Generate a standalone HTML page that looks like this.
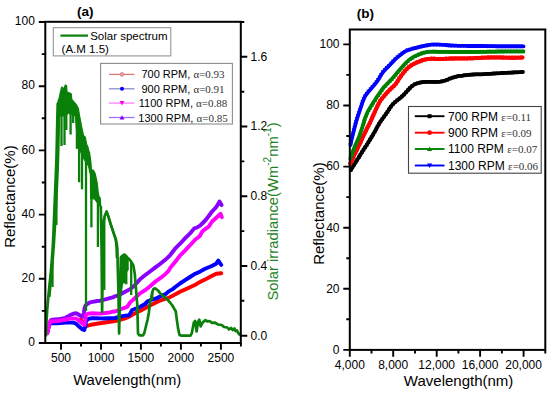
<!DOCTYPE html><html><head><meta charset="utf-8"><style>html,body{margin:0;padding:0;background:#fff;overflow:hidden}svg{display:block}text{font-family:"Liberation Sans",sans-serif}.sr{font-family:"Liberation Serif",serif}</style></head><body>
<svg width="550" height="395" viewBox="0 0 550 395">
<rect width="550" height="395" fill="#fff"/>
<polyline points="80.5,319.8 82.0,321.2 84.0,324.0 85.5,326.2 87.2,325.8 90.0,325.0 95.0,324.0 100.0,323.3 105.0,322.5 110.0,321.8 115.0,321.0 120.0,319.8 125.1,318.4 129.0,316.8 133.2,314.4 137.0,312.3 140.3,310.8 145.0,308.3 150.0,305.5 155.0,303.0 159.0,300.9 165.0,299.0 169.2,297.5 173.7,295.2 175.0,294.4 180.0,291.8 185.1,289.4 190.0,287.2 195.3,284.8 198.0,283.0 205.0,279.6 211.2,276.3 216.2,273.8 221.3,273.3" fill="none" stroke="#ff0000" stroke-width="3.9" stroke-linejoin="round" stroke-linecap="round"/>
<polyline points="47.3,332.0 48.8,325.5 50.5,323.3 58.0,323.4 65.6,322.6 73.2,322.6 76.2,323.8 79.3,326.8 82.3,329.3 84.2,330.0 85.2,327.0 86.1,321.0 88.8,318.6 92.0,318.2 96.4,318.2 100.0,318.4 104.0,318.5 108.0,318.2 115.0,318.0 121.1,316.4 127.2,315.4 129.2,315.2 132.2,310.0 135.3,308.8 140.3,306.8 145.0,304.0 148.0,301.0 151.0,300.0 155.5,298.7 160.0,296.5 165.1,294.4 169.2,291.1 172.7,289.1 175.0,287.3 180.0,283.5 185.1,280.2 190.0,277.0 195.3,273.7 198.0,272.6 200.3,271.4 205.1,268.7 211.2,266.2 216.2,263.7 218.3,260.6 221.3,265.0" fill="none" stroke="#0000ff" stroke-width="3.9" stroke-linejoin="round" stroke-linecap="round"/>
<polyline points="47.5,333.0 49.2,324.0 50.8,320.3 52.0,319.6 58.0,319.3 65.6,317.8 69.4,315.6 73.2,313.7 76.2,313.3 78.5,314.5 80.8,316.0 83.1,316.8 83.8,313.0 84.5,308.5 85.5,305.5 87.3,304.0 90.0,302.3 92.6,301.8 97.3,301.0 100.2,300.7 106.3,299.2 112.7,297.4 115.0,296.3 119.0,295.0 125.1,291.8 130.2,289.1 134.3,285.8 140.0,279.3 145.0,275.3 150.0,271.5 155.1,267.6 160.0,264.0 165.3,259.8 170.0,255.3 175.1,248.7 180.1,243.7 185.2,238.1 190.3,233.2 194.0,228.6 197.6,227.2 200.1,225.6 203.2,222.5 205.2,220.5 208.0,217.0 212.1,211.5 216.6,206.6 219.5,201.5 221.5,205.0" fill="none" stroke="#8a00ff" stroke-width="3.9" stroke-linejoin="round" stroke-linecap="round"/>
<polyline points="47.1,333.3 48.9,325.4 50.3,321.2 52.8,321.3 58.0,321.0 65.6,319.8 69.4,318.6 73.2,318.4 76.2,318.6 79.3,321.0 82.3,323.6 84.6,324.7 85.3,319.0 86.0,314.8 88.0,313.6 92.6,313.2 100.2,313.6 107.8,312.8 112.0,311.8 115.0,311.5 119.0,310.0 123.1,308.3 127.2,306.8 130.2,302.4 135.3,297.7 140.3,293.1 145.0,290.3 150.1,286.3 155.1,281.8 160.2,278.2 165.3,274.2 168.3,271.2 170.5,267.5 175.1,262.0 180.1,255.5 185.2,250.3 190.3,245.0 195.3,239.5 198.0,237.5 200.1,235.7 202.2,231.6 205.2,229.1 208.7,226.6 212.1,221.5 216.6,217.5 220.6,213.8 221.8,217.2" fill="none" stroke="#ff00ff" stroke-width="3.9" stroke-linejoin="round" stroke-linecap="round"/>
<polygon points="57.3,116.0 57.5,103.0 58.5,100.0 59.2,98.0 60.2,93.0 61.7,87.0 63.0,88.2 64.2,88.0 65.3,85.0 66.5,85.6 67.1,92.0 69.8,93.0 71.3,94.0 71.8,99.5 73.7,101.6 76.3,104.6 78.4,108.5 79.6,116.0 80.8,122.0 81.5,126.5 82.7,131.6 83.4,135.3 85.3,137.2 86.6,144.2 87.8,146.7 89.1,151.8 89.6,152.8 90.8,161.5 91.5,170.3 93.4,170.0 95.3,174.1 97.2,183.0 98.4,194.0 99.2,197.0 100.2,198.0 100.8,206.0 99.3,206.0 97.5,203.0 94.6,199.0 90.6,198.6 90.4,175.0 88.5,166.0 87.7,165.0 84.5,160.0 82.0,155.0 80.0,150.0 78.3,148.0 76.2,127.0 75.5,116.0 68.0,113.0 66.0,116.0" fill="#0a800a" stroke="#0a800a" stroke-width="1.2" stroke-linejoin="round"/>
<polygon points="120.9,262.0 121.8,256.5 123.3,254.6 126.5,255.2 128.2,258.0 128.2,270.0 126.5,272.0 125.6,283.0 122.6,283.0 121.6,292.0 120.8,292.0" fill="#0a800a" stroke="#0a800a" stroke-width="1"/>
<polyline points="107.4,213.5 109.2,219.0 111.6,227.0 114.0,234.5 115.6,240.0 116.4,247.0 116.7,258.0" fill="none" stroke="#0a800a" stroke-width="2.2"/>
<polyline points="45.9,336.5 46.3,325.0 47.2,310.0 48.3,297.0 49.5,285.0 50.6,275.0 51.8,260.0 52.6,250.0 53.5,232.0 54.3,212.0 55.0,195.0 55.7,178.0 56.4,160.0 56.9,140.0 57.3,120.0 57.8,103.0" fill="none" stroke="#0a800a" stroke-width="2.7" stroke-linejoin="round"/>
<polyline points="49.3,297.0 51.0,278.0 52.5,262.0 53.8,245.0 54.8,228.0 55.8,210.0 56.7,190.0 57.6,170.0 58.2,150.0 58.6,130.0 58.8,115.0" fill="none" stroke="#0a800a" stroke-width="2.7" stroke-linejoin="round"/>
<polyline points="100.8,206.0 101.6,250.0 102.1,312.0 102.8,260.0 103.6,222.0 104.6,216.3 106.6,211.5 108.2,216.0 110.6,224.0 114.0,234.0 115.8,239.0 116.8,244.0 117.4,250.0 117.7,265.0 118.4,290.0 119.1,333.5 119.9,300.0 120.5,280.0 120.9,257.5 122.2,256.0 123.4,255.0 124.7,254.6 127.2,257.5 129.1,259.0 131.0,261.3 133.3,265.5 134.8,274.0 136.0,289.0 137.3,305.0 138.0,333.5 139.5,335.3 143.0,335.3 144.3,333.0 146.0,326.0 147.5,320.0 148.8,313.0 150.0,303.0 151.2,298.0 152.3,292.0 153.5,289.0 155.1,288.3 156.0,289.0 158.2,290.6 160.1,293.3 165.1,297.5 168.3,300.5 170.3,302.8 172.7,306.0 174.5,309.4 175.7,311.0 176.8,319.6 178.2,329.1 179.5,335.0 181.0,335.6 190.5,335.6 191.8,333.2 193.9,322.3 195.2,320.9 196.6,331.5 198.0,322.3 199.3,319.6 200.7,326.4 202.7,322.3 205.5,320.2 207.5,321.5 209.6,321.0 212.0,322.8 215.0,322.6 218.0,324.5 221.8,325.0 224.0,327.0 227.3,327.5 229.0,329.5 231.0,328.0 232.8,330.0 234.5,328.5 235.5,331.0 237.0,330.5 238.2,333.0 240.3,335.2" fill="none" stroke="#0a800a" stroke-width="2.7" stroke-linejoin="round"/>
<line x1="52.5" y1="262" x2="52.5" y2="287" stroke="#0a800a" stroke-width="2.3"/>
<line x1="56.4" y1="190" x2="56.4" y2="225" stroke="#0a800a" stroke-width="2.3"/>
<line x1="61.5" y1="110" x2="61.5" y2="146" stroke="#0a800a" stroke-width="2.3"/>
<line x1="64.5" y1="110" x2="64.5" y2="145" stroke="#0a800a" stroke-width="2.3"/>
<line x1="66.3" y1="110" x2="66.3" y2="130" stroke="#0a800a" stroke-width="2.3"/>
<line x1="70.6" y1="110" x2="70.6" y2="134.5" stroke="#0a800a" stroke-width="2.3"/>
<line x1="73.2" y1="110" x2="73.2" y2="123" stroke="#0a800a" stroke-width="2.3"/>
<line x1="76.9" y1="120" x2="76.9" y2="148.8" stroke="#0a800a" stroke-width="2.3"/>
<line x1="79.1" y1="140" x2="79.1" y2="182.3" stroke="#0a800a" stroke-width="2.3"/>
<line x1="82" y1="150" x2="82" y2="189.3" stroke="#0a800a" stroke-width="2.3"/>
<line x1="86" y1="150" x2="86" y2="311" stroke="#0a800a" stroke-width="2.3"/>
<line x1="91.4" y1="185" x2="91.4" y2="227.4" stroke="#0a800a" stroke-width="2.3"/>
<line x1="97.9" y1="195" x2="97.9" y2="247" stroke="#0a800a" stroke-width="2.3"/>
<line x1="104.3" y1="218" x2="104.3" y2="290" stroke="#0a800a" stroke-width="2.3"/>
<line x1="124.2" y1="258" x2="124.2" y2="283" stroke="#0a800a" stroke-width="2.3"/>
<line x1="126.3" y1="258" x2="126.3" y2="284.3" stroke="#0a800a" stroke-width="2.3"/>
<line x1="131.2" y1="262" x2="131.2" y2="295" stroke="#0a800a" stroke-width="2.3"/>
<line x1="152.3" y1="292" x2="152.3" y2="300" stroke="#0a800a" stroke-width="2.3"/>
<rect x="45.3" y="21.8" width="195.5" height="321.2" fill="none" stroke="#000" stroke-width="2"/>
<path d="M38.8,343.0H45.3M41.8,310.9H45.3M38.8,278.8H45.3M41.8,246.7H45.3M38.8,214.6H45.3M41.8,182.5H45.3M38.8,150.4H45.3M41.8,118.3H45.3M38.8,86.2H45.3M41.8,54.1H45.3M38.8,22.0H45.3M61.0,343.0V349.8M81.0,343.0V346.5M101.0,343.0V349.8M121.0,343.0V346.5M140.9,343.0V349.8M160.9,343.0V346.5M180.9,343.0V349.8M200.9,343.0V346.5M220.9,343.0V349.8M240.9,343.0V346.5M240.8,335.7H247.3M240.8,300.8H244.3M240.8,266.0H247.3M240.8,231.1H244.3M240.8,196.3H247.3M240.8,161.4H244.3M240.8,126.5H247.3M240.8,91.7H244.3M240.8,56.8H247.3M240.8,22.0H244.3" stroke="#000" stroke-width="1.9" fill="none"/>
<text x="34.9" y="346.1" text-anchor="end" font-size="12">0</text>
<text x="34.9" y="281.9" text-anchor="end" font-size="12">20</text>
<text x="34.9" y="217.7" text-anchor="end" font-size="12">40</text>
<text x="34.9" y="153.5" text-anchor="end" font-size="12">60</text>
<text x="34.9" y="89.3" text-anchor="end" font-size="12">80</text>
<text x="34.9" y="25.1" text-anchor="end" font-size="12">100</text>
<text x="61.0" y="362.1" text-anchor="middle" font-size="12">500</text>
<text x="101.0" y="362.1" text-anchor="middle" font-size="12">1000</text>
<text x="140.9" y="362.1" text-anchor="middle" font-size="12">1500</text>
<text x="180.9" y="362.1" text-anchor="middle" font-size="12">2000</text>
<text x="220.9" y="362.1" text-anchor="middle" font-size="12">2500</text>
<text x="250.6" y="339.5" font-size="12">0.0</text>
<text x="250.6" y="269.8" font-size="12">0.4</text>
<text x="250.6" y="200.1" font-size="12">0.8</text>
<text x="250.6" y="130.3" font-size="12">1.2</text>
<text x="250.6" y="60.6" font-size="12">1.6</text>
<text x="85.2" y="16.3" text-anchor="middle" font-size="13.5" font-weight="bold">(a)</text>
<text x="127.2" y="385" text-anchor="middle" font-size="14.8">Wavelength(nm)</text>
<text transform="translate(14.8,196.6) rotate(-90)" text-anchor="middle" font-size="15">Reflectance(%)</text>
<text transform="translate(278.2,211.5) rotate(-90)" text-anchor="middle" font-size="14.8" fill="#1f841f">Solar irradiance(Wm<tspan font-size="10" dy="-7.5">-2</tspan><tspan dy="7.5">nm</tspan><tspan font-size="10" dy="-7.5">-1</tspan><tspan dy="7.5">)</tspan></text>
<rect x="53.3" y="27.7" width="117.5" height="28.2" fill="#fff" stroke="#959595" stroke-width="1.1"/>
<line x1="60.4" y1="35.6" x2="88" y2="35.6" stroke="#0a800a" stroke-width="2.2"/>
<text x="90.2" y="39.6" font-size="11.5">Solar spectrum</text>
<text x="61.6" y="52.5" font-size="11.5">(A.M 1.5)</text>
<rect x="100.6" y="63.4" width="131.8" height="60.6" fill="#fff" stroke="#8c8c8c" stroke-width="1.1"/>
<line x1="109" y1="74.4" x2="134.5" y2="74.4" stroke="#e07878" stroke-width="1.3"/>
<circle cx="122" cy="74.4" r="1.8" fill="#eeb0b0" stroke="#d07070" stroke-width="0.9"/>
<text x="183" y="78.4" text-anchor="middle" font-size="11">700 RPM, <tspan class="sr" font-size="11" fill="#333">α=0.93</tspan></text>
<line x1="109" y1="88.8" x2="134.5" y2="88.8" stroke="#8c8cd8" stroke-width="1.3"/>
<circle cx="122" cy="88.8" r="2" fill="#0000ff"/>
<text x="183" y="92.8" text-anchor="middle" font-size="11">900 RPM, <tspan class="sr" font-size="11" fill="#333">α=0.91</tspan></text>
<line x1="109" y1="103.1" x2="134.5" y2="103.1" stroke="#ff80ff" stroke-width="1.3"/>
<polygon points="119.5,101.1 124.5,101.1 122,105.39999999999999" fill="#ff00ff"/>
<text x="183" y="107.1" text-anchor="middle" font-size="11">1100 RPM, <tspan class="sr" font-size="11" fill="#333">α=0.88</tspan></text>
<line x1="109" y1="117.5" x2="134.5" y2="117.5" stroke="#a070ff" stroke-width="1.3"/>
<polygon points="119.5,119.5 124.5,119.5 122,115.2" fill="#8000ff"/>
<text x="183" y="121.5" text-anchor="middle" font-size="11">1300 RPM, <tspan class="sr" font-size="11" fill="#333">α=0.85</tspan></text>
<polyline points="350.8,170.0 352.2,167.6 353.1,166.2 354.3,164.4 355.5,162.5 356.7,160.7 357.9,158.8 359.0,157.0 360.1,155.2 361.1,153.5 362.2,151.7 363.3,150.0 364.4,148.3 365.6,146.6 366.8,144.9 367.9,143.1 368.9,141.4 370.0,139.6 371.1,137.9 372.2,136.0 373.3,134.2 374.3,132.4 375.4,130.5 376.4,128.7 377.4,126.8 378.4,124.9 379.5,123.1 380.6,121.3 381.8,119.7 383.1,118.0 384.4,116.2 385.7,114.3 387.0,112.4 388.3,110.5 389.5,108.6 390.7,106.8 392.1,105.0 393.7,103.4 395.4,101.9 397.1,100.5 398.9,99.0 400.7,97.6 402.5,96.0 404.2,94.3 405.9,92.5 407.4,90.7 408.9,89.1 410.3,87.6 411.9,86.2 413.5,85.0 415.4,84.0 417.5,83.3 419.7,82.7 421.9,82.2 424.0,82.0 426.0,81.8 428.0,81.8 430.0,81.9 432.1,81.9 434.1,81.9 436.1,81.9 438.2,81.8 440.4,81.7 442.6,81.2 444.9,80.5 447.2,79.7 449.5,78.8 451.8,78.0 454.0,77.2 456.1,76.6 458.1,76.1 460.2,75.9 462.2,75.7 464.2,75.4 466.2,75.1 468.3,74.9 470.5,74.6 472.8,74.5 475.0,74.4 477.2,74.4 479.4,74.3 481.5,74.3 483.6,74.2 485.7,74.1 487.8,73.9 489.8,73.8 491.9,73.6 493.9,73.5 495.9,73.4 498.0,73.3 500.1,73.2 502.3,73.0 504.5,72.9 506.7,72.8 508.9,72.7 511.0,72.6 513.2,72.5 515.4,72.4 517.5,72.3 519.7,72.2 520.8,72.1 523.0,72.0" fill="none" stroke="#000" stroke-width="3.8" stroke-linejoin="round" stroke-linecap="round"/>
<path d="M349.0,168.2h3.5v3.5h-3.5zM350.6,165.7h3.5v3.5h-3.5zM352.2,163.1h3.5v3.5h-3.5zM353.8,160.6h3.5v3.5h-3.5zM355.4,158.1h3.5v3.5h-3.5zM357.1,155.6h3.5v3.5h-3.5zM358.6,153.0h3.5v3.5h-3.5zM360.2,150.4h3.5v3.5h-3.5zM361.8,147.9h3.5v3.5h-3.5zM363.4,145.4h3.5v3.5h-3.5zM365.1,142.9h3.5v3.5h-3.5zM366.7,140.4h3.5v3.5h-3.5zM368.3,137.8h3.5v3.5h-3.5zM369.8,135.3h3.5v3.5h-3.5zM371.4,132.7h3.5v3.5h-3.5zM372.9,130.1h3.5v3.5h-3.5zM374.3,127.5h3.5v3.5h-3.5zM375.7,124.8h3.5v3.5h-3.5zM377.2,122.2h3.5v3.5h-3.5zM378.8,119.7h3.5v3.5h-3.5zM380.6,117.2h3.5v3.5h-3.5zM382.4,114.8h3.5v3.5h-3.5zM384.1,112.4h3.5v3.5h-3.5zM385.8,109.9h3.5v3.5h-3.5zM387.4,107.4h3.5v3.5h-3.5zM389.1,104.9h3.5v3.5h-3.5zM391.0,102.6h3.5v3.5h-3.5zM393.1,100.5h3.5v3.5h-3.5zM395.5,98.6h3.5v3.5h-3.5zM397.8,96.7h3.5v3.5h-3.5zM400.1,94.8h3.5v3.5h-3.5zM402.3,92.7h3.5v3.5h-3.5zM404.3,90.5h3.5v3.5h-3.5zM406.3,88.3h3.5v3.5h-3.5zM408.3,86.1h3.5v3.5h-3.5zM410.6,84.1h3.5v3.5h-3.5zM413.1,82.5h3.5v3.5h-3.5zM415.9,81.5h3.5v3.5h-3.5zM418.9,80.7h3.5v3.5h-3.5zM421.8,80.3h3.5v3.5h-3.5zM424.8,80.1h3.5v3.5h-3.5zM427.8,80.1h3.5v3.5h-3.5zM430.8,80.2h3.5v3.5h-3.5zM433.8,80.2h3.5v3.5h-3.5zM436.8,80.1h3.5v3.5h-3.5zM439.8,79.7h3.5v3.5h-3.5zM442.7,78.9h3.5v3.5h-3.5zM445.5,77.9h3.5v3.5h-3.5zM448.3,76.8h3.5v3.5h-3.5zM451.1,75.8h3.5v3.5h-3.5zM454.0,74.9h3.5v3.5h-3.5zM456.9,74.3h3.5v3.5h-3.5zM459.9,74.0h3.5v3.5h-3.5zM462.9,73.6h3.5v3.5h-3.5zM465.8,73.2h3.5v3.5h-3.5zM468.8,72.9h3.5v3.5h-3.5zM471.8,72.7h3.5v3.5h-3.5zM474.8,72.6h3.5v3.5h-3.5zM477.8,72.6h3.5v3.5h-3.5zM480.8,72.5h3.5v3.5h-3.5zM483.8,72.3h3.5v3.5h-3.5zM486.8,72.1h3.5v3.5h-3.5zM489.8,71.9h3.5v3.5h-3.5zM492.8,71.7h3.5v3.5h-3.5zM495.8,71.6h3.5v3.5h-3.5zM498.8,71.4h3.5v3.5h-3.5zM501.8,71.2h3.5v3.5h-3.5zM504.8,71.0h3.5v3.5h-3.5zM507.8,70.9h3.5v3.5h-3.5zM510.8,70.8h3.5v3.5h-3.5zM513.8,70.6h3.5v3.5h-3.5zM516.8,70.5h3.5v3.5h-3.5zM519.8,70.3h3.5v3.5h-3.5z" fill="#000"/>
<polyline points="350.3,163.5 351.8,160.5 352.6,158.7 353.6,156.5 354.6,154.3 355.6,152.3 356.6,150.3 357.6,148.3 358.6,146.2 359.6,144.3 360.5,142.3 361.4,140.4 362.2,138.5 363.0,136.7 363.9,134.8 364.8,133.0 365.7,131.2 366.6,129.3 367.6,127.4 368.6,125.5 369.6,123.4 370.6,121.3 371.6,119.2 372.5,117.2 373.3,115.3 374.1,113.4 375.0,111.5 375.8,109.5 376.8,107.6 377.7,105.6 378.7,103.6 379.7,101.7 380.9,99.9 382.3,98.1 383.7,96.4 385.2,94.7 386.7,93.1 388.1,91.5 389.6,90.0 391.2,88.5 392.8,87.0 394.4,85.4 395.8,83.8 397.0,82.1 398.1,80.3 399.2,78.6 400.4,76.8 401.6,75.1 403.0,73.4 404.4,71.7 405.8,70.1 407.2,68.5 408.8,67.1 410.6,65.8 412.4,64.6 414.5,63.6 416.5,62.6 418.6,61.7 420.8,60.9 423.0,60.1 425.2,59.5 427.4,59.0 429.6,58.8 431.7,58.7 433.9,58.7 436.0,58.8 438.0,58.9 440.0,58.9 442.0,58.9 444.0,58.8 446.0,58.7 448.0,58.6 450.0,58.5 452.0,58.5 454.0,58.5 456.0,58.4 458.0,58.4 460.0,58.4 462.0,58.4 464.0,58.4 466.0,58.4 468.0,58.4 470.0,58.3 472.0,58.3 474.0,58.2 476.0,58.0 478.0,57.9 480.0,57.8 482.0,57.7 484.0,57.6 486.0,57.6 488.0,57.5 490.0,57.4 492.0,57.4 494.0,57.4 496.0,57.4 498.0,57.4 500.0,57.4 502.0,57.5 504.0,57.6 506.0,57.6 508.0,57.7 510.0,57.7 512.0,57.7 514.0,57.7 516.0,57.6 518.1,57.6 519.8,57.6 522.7,57.5 522.7,57.5" fill="none" stroke="#ff0000" stroke-width="3.8" stroke-linejoin="round" stroke-linecap="round"/>
<path d="M348.1,163.5a2.2,2.2 0 1,0 4.4,0a2.2,2.2 0 1,0 -4.4,0zM349.4,160.8a2.2,2.2 0 1,0 4.4,0a2.2,2.2 0 1,0 -4.4,0zM350.7,158.1a2.2,2.2 0 1,0 4.4,0a2.2,2.2 0 1,0 -4.4,0zM351.9,155.4a2.2,2.2 0 1,0 4.4,0a2.2,2.2 0 1,0 -4.4,0zM353.2,152.7a2.2,2.2 0 1,0 4.4,0a2.2,2.2 0 1,0 -4.4,0zM354.6,150.0a2.2,2.2 0 1,0 4.4,0a2.2,2.2 0 1,0 -4.4,0zM355.9,147.3a2.2,2.2 0 1,0 4.4,0a2.2,2.2 0 1,0 -4.4,0zM357.2,144.6a2.2,2.2 0 1,0 4.4,0a2.2,2.2 0 1,0 -4.4,0zM358.5,141.9a2.2,2.2 0 1,0 4.4,0a2.2,2.2 0 1,0 -4.4,0zM359.7,139.1a2.2,2.2 0 1,0 4.4,0a2.2,2.2 0 1,0 -4.4,0zM361.0,136.4a2.2,2.2 0 1,0 4.4,0a2.2,2.2 0 1,0 -4.4,0zM362.3,133.7a2.2,2.2 0 1,0 4.4,0a2.2,2.2 0 1,0 -4.4,0zM363.6,131.0a2.2,2.2 0 1,0 4.4,0a2.2,2.2 0 1,0 -4.4,0zM364.9,128.3a2.2,2.2 0 1,0 4.4,0a2.2,2.2 0 1,0 -4.4,0zM366.3,125.6a2.2,2.2 0 1,0 4.4,0a2.2,2.2 0 1,0 -4.4,0zM367.6,123.0a2.2,2.2 0 1,0 4.4,0a2.2,2.2 0 1,0 -4.4,0zM368.9,120.2a2.2,2.2 0 1,0 4.4,0a2.2,2.2 0 1,0 -4.4,0zM370.1,117.5a2.2,2.2 0 1,0 4.4,0a2.2,2.2 0 1,0 -4.4,0zM371.3,114.8a2.2,2.2 0 1,0 4.4,0a2.2,2.2 0 1,0 -4.4,0zM372.5,112.0a2.2,2.2 0 1,0 4.4,0a2.2,2.2 0 1,0 -4.4,0zM373.8,109.3a2.2,2.2 0 1,0 4.4,0a2.2,2.2 0 1,0 -4.4,0zM375.0,106.6a2.2,2.2 0 1,0 4.4,0a2.2,2.2 0 1,0 -4.4,0zM376.3,103.9a2.2,2.2 0 1,0 4.4,0a2.2,2.2 0 1,0 -4.4,0zM377.8,101.3a2.2,2.2 0 1,0 4.4,0a2.2,2.2 0 1,0 -4.4,0zM379.6,98.8a2.2,2.2 0 1,0 4.4,0a2.2,2.2 0 1,0 -4.4,0zM381.5,96.5a2.2,2.2 0 1,0 4.4,0a2.2,2.2 0 1,0 -4.4,0zM383.4,94.2a2.2,2.2 0 1,0 4.4,0a2.2,2.2 0 1,0 -4.4,0zM385.4,92.0a2.2,2.2 0 1,0 4.4,0a2.2,2.2 0 1,0 -4.4,0zM387.5,89.8a2.2,2.2 0 1,0 4.4,0a2.2,2.2 0 1,0 -4.4,0zM389.7,87.8a2.2,2.2 0 1,0 4.4,0a2.2,2.2 0 1,0 -4.4,0zM391.9,85.7a2.2,2.2 0 1,0 4.4,0a2.2,2.2 0 1,0 -4.4,0zM393.9,83.5a2.2,2.2 0 1,0 4.4,0a2.2,2.2 0 1,0 -4.4,0zM395.5,81.0a2.2,2.2 0 1,0 4.4,0a2.2,2.2 0 1,0 -4.4,0zM397.1,78.4a2.2,2.2 0 1,0 4.4,0a2.2,2.2 0 1,0 -4.4,0zM398.8,75.9a2.2,2.2 0 1,0 4.4,0a2.2,2.2 0 1,0 -4.4,0zM400.6,73.6a2.2,2.2 0 1,0 4.4,0a2.2,2.2 0 1,0 -4.4,0zM402.5,71.3a2.2,2.2 0 1,0 4.4,0a2.2,2.2 0 1,0 -4.4,0zM404.6,69.1a2.2,2.2 0 1,0 4.4,0a2.2,2.2 0 1,0 -4.4,0zM406.7,67.0a2.2,2.2 0 1,0 4.4,0a2.2,2.2 0 1,0 -4.4,0zM409.2,65.3a2.2,2.2 0 1,0 4.4,0a2.2,2.2 0 1,0 -4.4,0zM411.8,63.8a2.2,2.2 0 1,0 4.4,0a2.2,2.2 0 1,0 -4.4,0zM414.5,62.5a2.2,2.2 0 1,0 4.4,0a2.2,2.2 0 1,0 -4.4,0zM417.3,61.4a2.2,2.2 0 1,0 4.4,0a2.2,2.2 0 1,0 -4.4,0zM420.1,60.3a2.2,2.2 0 1,0 4.4,0a2.2,2.2 0 1,0 -4.4,0zM423.0,59.5a2.2,2.2 0 1,0 4.4,0a2.2,2.2 0 1,0 -4.4,0zM425.9,58.9a2.2,2.2 0 1,0 4.4,0a2.2,2.2 0 1,0 -4.4,0zM428.9,58.7a2.2,2.2 0 1,0 4.4,0a2.2,2.2 0 1,0 -4.4,0zM431.9,58.7a2.2,2.2 0 1,0 4.4,0a2.2,2.2 0 1,0 -4.4,0zM434.9,58.9a2.2,2.2 0 1,0 4.4,0a2.2,2.2 0 1,0 -4.4,0zM437.9,58.9a2.2,2.2 0 1,0 4.4,0a2.2,2.2 0 1,0 -4.4,0zM440.9,58.9a2.2,2.2 0 1,0 4.4,0a2.2,2.2 0 1,0 -4.4,0zM443.9,58.7a2.2,2.2 0 1,0 4.4,0a2.2,2.2 0 1,0 -4.4,0zM446.9,58.6a2.2,2.2 0 1,0 4.4,0a2.2,2.2 0 1,0 -4.4,0zM449.9,58.5a2.2,2.2 0 1,0 4.4,0a2.2,2.2 0 1,0 -4.4,0zM452.9,58.4a2.2,2.2 0 1,0 4.4,0a2.2,2.2 0 1,0 -4.4,0zM455.9,58.4a2.2,2.2 0 1,0 4.4,0a2.2,2.2 0 1,0 -4.4,0zM458.9,58.4a2.2,2.2 0 1,0 4.4,0a2.2,2.2 0 1,0 -4.4,0zM461.9,58.4a2.2,2.2 0 1,0 4.4,0a2.2,2.2 0 1,0 -4.4,0zM464.9,58.4a2.2,2.2 0 1,0 4.4,0a2.2,2.2 0 1,0 -4.4,0zM467.9,58.3a2.2,2.2 0 1,0 4.4,0a2.2,2.2 0 1,0 -4.4,0zM470.9,58.2a2.2,2.2 0 1,0 4.4,0a2.2,2.2 0 1,0 -4.4,0zM473.9,58.0a2.2,2.2 0 1,0 4.4,0a2.2,2.2 0 1,0 -4.4,0zM476.9,57.9a2.2,2.2 0 1,0 4.4,0a2.2,2.2 0 1,0 -4.4,0zM479.9,57.7a2.2,2.2 0 1,0 4.4,0a2.2,2.2 0 1,0 -4.4,0zM482.9,57.6a2.2,2.2 0 1,0 4.4,0a2.2,2.2 0 1,0 -4.4,0zM485.9,57.5a2.2,2.2 0 1,0 4.4,0a2.2,2.2 0 1,0 -4.4,0zM488.9,57.4a2.2,2.2 0 1,0 4.4,0a2.2,2.2 0 1,0 -4.4,0zM491.9,57.4a2.2,2.2 0 1,0 4.4,0a2.2,2.2 0 1,0 -4.4,0zM494.9,57.4a2.2,2.2 0 1,0 4.4,0a2.2,2.2 0 1,0 -4.4,0zM497.9,57.4a2.2,2.2 0 1,0 4.4,0a2.2,2.2 0 1,0 -4.4,0zM500.9,57.5a2.2,2.2 0 1,0 4.4,0a2.2,2.2 0 1,0 -4.4,0zM503.9,57.6a2.2,2.2 0 1,0 4.4,0a2.2,2.2 0 1,0 -4.4,0zM506.9,57.7a2.2,2.2 0 1,0 4.4,0a2.2,2.2 0 1,0 -4.4,0zM509.9,57.7a2.2,2.2 0 1,0 4.4,0a2.2,2.2 0 1,0 -4.4,0zM512.9,57.7a2.2,2.2 0 1,0 4.4,0a2.2,2.2 0 1,0 -4.4,0zM515.9,57.6a2.2,2.2 0 1,0 4.4,0a2.2,2.2 0 1,0 -4.4,0zM518.9,57.5a2.2,2.2 0 1,0 4.4,0a2.2,2.2 0 1,0 -4.4,0z" fill="#ff0000"/>
<polyline points="350.5,158.0 351.7,154.9 352.2,153.2 352.9,151.2 353.7,149.1 354.6,146.9 355.5,144.7 356.5,142.5 357.5,140.3 358.4,138.2 359.2,136.2 359.9,134.1 360.7,132.0 361.4,129.8 362.2,127.7 362.8,125.5 363.5,123.5 364.0,121.4 364.6,119.4 365.3,117.4 366.1,115.4 367.0,113.3 367.9,111.4 369.0,109.4 370.2,107.5 371.4,105.6 372.6,103.7 373.8,101.6 375.1,99.7 376.3,97.8 377.6,95.9 378.9,94.1 380.1,92.3 381.3,90.6 382.5,88.9 383.8,87.3 385.2,85.8 386.7,84.2 388.3,82.6 389.9,80.9 391.6,79.2 393.1,77.5 394.6,75.8 396.1,74.0 397.5,72.2 399.0,70.5 400.4,68.9 401.9,67.2 403.4,65.6 404.9,63.9 406.6,62.2 408.4,60.6 410.4,59.0 412.4,57.6 414.5,56.4 416.5,55.4 418.6,54.5 420.8,53.6 423.0,52.9 425.2,52.3 427.4,51.9 429.6,51.8 431.7,51.7 433.9,51.7 436.0,51.7 438.0,51.8 440.0,51.8 442.0,51.8 444.0,51.8 446.0,51.9 448.0,51.9 450.0,51.9 452.0,51.9 454.0,51.9 456.0,51.9 458.0,51.9 460.0,51.9 462.0,51.9 464.0,51.9 466.0,51.9 468.0,51.9 470.0,51.9 472.0,51.9 474.0,51.9 476.0,51.9 478.0,51.9 480.0,51.9 482.0,51.9 484.0,51.8 486.0,51.8 488.0,51.7 490.0,51.7 492.0,51.7 494.0,51.6 496.0,51.6 498.0,51.5 500.0,51.5 502.0,51.5 504.0,51.5 506.0,51.4 508.0,51.4 510.0,51.4 512.0,51.4 514.0,51.4 516.0,51.4 518.1,51.4 520.2,51.4 521.3,51.4 523.5,51.4" fill="none" stroke="#008000" stroke-width="3.8" stroke-linejoin="round" stroke-linecap="round"/>
<path d="M348.3,159.8h4.4l-2.2,-4.0zM349.4,157.0h4.4l-2.2,-4.0zM350.3,154.1h4.4l-2.2,-4.0zM351.3,151.3h4.4l-2.2,-4.0zM352.4,148.5h4.4l-2.2,-4.0zM353.6,145.8h4.4l-2.2,-4.0zM354.9,143.0h4.4l-2.2,-4.0zM356.1,140.3h4.4l-2.2,-4.0zM357.2,137.5h4.4l-2.2,-4.0zM358.2,134.6h4.4l-2.2,-4.0zM359.1,131.8h4.4l-2.2,-4.0zM360.1,129.0h4.4l-2.2,-4.0zM361.0,126.1h4.4l-2.2,-4.0zM361.8,123.2h4.4l-2.2,-4.0zM362.7,120.4h4.4l-2.2,-4.0zM363.8,117.5h4.4l-2.2,-4.0zM364.9,114.8h4.4l-2.2,-4.0zM366.3,112.1h4.4l-2.2,-4.0zM367.8,109.6h4.4l-2.2,-4.0zM369.5,107.0h4.4l-2.2,-4.0zM371.0,104.4h4.4l-2.2,-4.0zM372.6,101.9h4.4l-2.2,-4.0zM374.2,99.4h4.4l-2.2,-4.0zM375.9,96.9h4.4l-2.2,-4.0zM377.6,94.4h4.4l-2.2,-4.0zM379.4,92.0h4.4l-2.2,-4.0zM381.2,89.6h4.4l-2.2,-4.0zM383.2,87.4h4.4l-2.2,-4.0zM385.2,85.2h4.4l-2.2,-4.0zM387.4,83.1h4.4l-2.2,-4.0zM389.4,80.9h4.4l-2.2,-4.0zM391.4,78.7h4.4l-2.2,-4.0zM393.4,76.4h4.4l-2.2,-4.0zM395.3,74.1h4.4l-2.2,-4.0zM397.2,71.8h4.4l-2.2,-4.0zM399.2,69.5h4.4l-2.2,-4.0zM401.2,67.3h4.4l-2.2,-4.0zM403.3,65.1h4.4l-2.2,-4.0zM405.4,63.0h4.4l-2.2,-4.0zM407.7,61.1h4.4l-2.2,-4.0zM410.2,59.4h4.4l-2.2,-4.0zM412.8,57.9h4.4l-2.2,-4.0zM415.5,56.6h4.4l-2.2,-4.0zM418.3,55.5h4.4l-2.2,-4.0zM421.1,54.5h4.4l-2.2,-4.0zM424.1,53.9h4.4l-2.2,-4.0zM427.0,53.6h4.4l-2.2,-4.0zM430.0,53.5h4.4l-2.2,-4.0zM433.0,53.5h4.4l-2.2,-4.0zM436.0,53.5h4.4l-2.2,-4.0zM439.0,53.6h4.4l-2.2,-4.0zM442.0,53.6h4.4l-2.2,-4.0zM445.0,53.6h4.4l-2.2,-4.0zM448.0,53.7h4.4l-2.2,-4.0zM451.0,53.7h4.4l-2.2,-4.0zM454.0,53.7h4.4l-2.2,-4.0zM457.0,53.7h4.4l-2.2,-4.0zM460.0,53.7h4.4l-2.2,-4.0zM463.0,53.7h4.4l-2.2,-4.0zM466.0,53.7h4.4l-2.2,-4.0zM469.0,53.7h4.4l-2.2,-4.0zM472.0,53.7h4.4l-2.2,-4.0zM475.0,53.7h4.4l-2.2,-4.0zM478.0,53.6h4.4l-2.2,-4.0zM481.0,53.6h4.4l-2.2,-4.0zM484.0,53.5h4.4l-2.2,-4.0zM487.0,53.5h4.4l-2.2,-4.0zM490.0,53.4h4.4l-2.2,-4.0zM493.0,53.4h4.4l-2.2,-4.0zM496.0,53.3h4.4l-2.2,-4.0zM499.0,53.3h4.4l-2.2,-4.0zM502.0,53.2h4.4l-2.2,-4.0zM505.0,53.2h4.4l-2.2,-4.0zM508.0,53.2h4.4l-2.2,-4.0zM511.0,53.2h4.4l-2.2,-4.0zM514.0,53.2h4.4l-2.2,-4.0zM517.0,53.2h4.4l-2.2,-4.0zM520.0,53.2h4.4l-2.2,-4.0z" fill="#008000"/>
<polyline points="350.5,145.0 351.0,142.5 351.3,141.0 351.7,139.0 352.2,137.0 352.7,135.0 353.2,133.0 353.8,131.0 354.2,129.0 354.8,127.0 355.3,124.9 355.9,122.7 356.5,120.6 357.1,118.5 357.8,116.4 358.5,114.3 359.2,112.1 360.0,109.8 360.8,107.5 361.5,105.4 362.2,103.2 362.9,101.2 363.7,99.1 364.7,97.1 365.9,95.1 367.3,93.2 368.8,91.3 370.4,89.5 371.9,87.7 373.4,86.0 374.9,84.2 376.4,82.4 377.7,80.6 378.9,78.7 380.0,76.9 381.1,75.0 382.3,73.2 383.6,71.4 385.1,69.7 386.7,68.1 388.2,66.6 389.7,65.1 391.3,63.5 392.8,61.9 394.4,60.1 396.2,58.4 398.1,56.8 400.0,55.3 401.7,53.9 403.5,52.5 405.3,51.4 407.3,50.4 409.5,49.7 411.7,49.0 414.0,48.3 416.3,47.8 418.6,47.2 420.8,46.7 423.0,46.2 425.2,45.7 427.4,45.3 429.6,44.9 431.7,44.7 433.9,44.6 436.0,44.6 438.0,44.6 440.0,44.7 442.0,44.8 444.0,44.9 446.0,45.1 448.0,45.3 450.0,45.5 452.0,45.6 454.0,45.7 456.0,45.7 458.0,45.8 460.0,45.8 462.0,45.8 464.0,45.9 466.0,45.9 468.0,46.0 470.0,46.0 472.0,46.0 474.0,46.0 476.0,46.0 478.0,46.0 480.0,46.0 482.0,46.0 484.0,46.1 486.0,46.1 488.0,46.2 490.0,46.2 492.0,46.2 494.0,46.2 496.0,46.3 498.0,46.3 500.0,46.3 502.0,46.3 504.0,46.3 506.0,46.4 508.0,46.4 510.0,46.4 512.0,46.4 514.0,46.4 516.0,46.4 518.1,46.4 520.2,46.4 521.3,46.4 523.5,46.4" fill="none" stroke="#0000ff" stroke-width="3.8" stroke-linejoin="round" stroke-linecap="round"/>
<path d="M348.3,143.2h4.4l-2.2,4.0zM348.8,140.3h4.4l-2.2,4.0zM349.5,137.4h4.4l-2.2,4.0zM350.2,134.5h4.4l-2.2,4.0zM351.0,131.5h4.4l-2.2,4.0zM351.7,128.6h4.4l-2.2,4.0zM352.4,125.7h4.4l-2.2,4.0zM353.2,122.8h4.4l-2.2,4.0zM354.0,119.9h4.4l-2.2,4.0zM354.8,117.1h4.4l-2.2,4.0zM355.7,114.2h4.4l-2.2,4.0zM356.7,111.3h4.4l-2.2,4.0zM357.6,108.5h4.4l-2.2,4.0zM358.6,105.7h4.4l-2.2,4.0zM359.6,102.8h4.4l-2.2,4.0zM360.5,100.0h4.4l-2.2,4.0zM361.6,97.2h4.4l-2.2,4.0zM363.0,94.5h4.4l-2.2,4.0zM364.7,92.0h4.4l-2.2,4.0zM366.5,89.7h4.4l-2.2,4.0zM368.5,87.4h4.4l-2.2,4.0zM370.4,85.1h4.4l-2.2,4.0zM372.4,82.8h4.4l-2.2,4.0zM374.3,80.5h4.4l-2.2,4.0zM376.0,78.1h4.4l-2.2,4.0zM377.6,75.5h4.4l-2.2,4.0zM379.1,72.9h4.4l-2.2,4.0zM380.8,70.5h4.4l-2.2,4.0zM382.7,68.2h4.4l-2.2,4.0zM384.8,66.0h4.4l-2.2,4.0zM386.9,63.9h4.4l-2.2,4.0zM389.1,61.8h4.4l-2.2,4.0zM391.1,59.6h4.4l-2.2,4.0zM393.2,57.4h4.4l-2.2,4.0zM395.4,55.4h4.4l-2.2,4.0zM397.8,53.6h4.4l-2.2,4.0zM400.1,51.7h4.4l-2.2,4.0zM402.6,49.9h4.4l-2.2,4.0zM405.2,48.6h4.4l-2.2,4.0zM408.1,47.7h4.4l-2.2,4.0zM411.0,46.8h4.4l-2.2,4.0zM413.9,46.1h4.4l-2.2,4.0zM416.8,45.4h4.4l-2.2,4.0zM419.7,44.7h4.4l-2.2,4.0zM422.6,44.0h4.4l-2.2,4.0zM425.6,43.4h4.4l-2.2,4.0zM428.6,43.0h4.4l-2.2,4.0zM431.5,42.8h4.4l-2.2,4.0zM434.5,42.8h4.4l-2.2,4.0zM437.5,42.9h4.4l-2.2,4.0zM440.5,43.1h4.4l-2.2,4.0zM443.5,43.3h4.4l-2.2,4.0zM446.5,43.6h4.4l-2.2,4.0zM449.5,43.8h4.4l-2.2,4.0zM452.5,43.9h4.4l-2.2,4.0zM455.5,44.0h4.4l-2.2,4.0zM458.5,44.1h4.4l-2.2,4.0zM461.5,44.1h4.4l-2.2,4.0zM464.5,44.2h4.4l-2.2,4.0zM467.5,44.2h4.4l-2.2,4.0zM470.5,44.2h4.4l-2.2,4.0zM473.5,44.2h4.4l-2.2,4.0zM476.5,44.2h4.4l-2.2,4.0zM479.5,44.3h4.4l-2.2,4.0zM482.5,44.3h4.4l-2.2,4.0zM485.5,44.4h4.4l-2.2,4.0zM488.5,44.4h4.4l-2.2,4.0zM491.5,44.5h4.4l-2.2,4.0zM494.5,44.5h4.4l-2.2,4.0zM497.5,44.5h4.4l-2.2,4.0zM500.5,44.6h4.4l-2.2,4.0zM503.5,44.6h4.4l-2.2,4.0zM506.5,44.6h4.4l-2.2,4.0zM509.5,44.6h4.4l-2.2,4.0zM512.5,44.6h4.4l-2.2,4.0zM515.5,44.6h4.4l-2.2,4.0zM518.5,44.6h4.4l-2.2,4.0z" fill="#0000ff"/>
<rect x="349.8" y="29.5" width="195.49999999999994" height="320.4" fill="none" stroke="#000" stroke-width="2"/>
<path d="M343.3,349.9H349.8M346.3,319.3H349.8M343.3,288.8H349.8M346.3,258.2H349.8M343.3,227.7H349.8M346.3,197.1H349.8M343.3,166.6H349.8M346.3,136.0H349.8M343.3,105.5H349.8M346.3,74.9H349.8M343.3,44.4H349.8M349.8,349.9V356.7M371.5,349.9V353.4M393.2,349.9V356.7M415.0,349.9V353.4M436.7,349.9V356.7M458.4,349.9V353.4M480.1,349.9V356.7M501.9,349.9V353.4M523.6,349.9V356.7M545.3,349.9V353.4" stroke="#000" stroke-width="1.9" fill="none"/>
<text x="339.5" y="353.7" text-anchor="end" font-size="12">0</text>
<text x="339.5" y="292.6" text-anchor="end" font-size="12">20</text>
<text x="339.5" y="231.5" text-anchor="end" font-size="12">40</text>
<text x="339.5" y="170.4" text-anchor="end" font-size="12">60</text>
<text x="339.5" y="109.3" text-anchor="end" font-size="12">80</text>
<text x="339.5" y="48.2" text-anchor="end" font-size="12">100</text>
<text x="349.8" y="369" text-anchor="middle" font-size="12">4,000</text>
<text x="393.2" y="369" text-anchor="middle" font-size="12">8,000</text>
<text x="436.7" y="369" text-anchor="middle" font-size="12">12,000</text>
<text x="480.1" y="369" text-anchor="middle" font-size="12">16,000</text>
<text x="523.6" y="369" text-anchor="middle" font-size="12">20,000</text>
<text x="365.4" y="17.6" text-anchor="middle" font-size="13.5" font-weight="bold">(b)</text>
<text x="458.6" y="385.5" text-anchor="middle" font-size="15">Wavelength(nm)</text>
<text transform="translate(324.3,213.6) rotate(-90)" text-anchor="middle" font-size="15">Reflectance(%)</text>
<rect x="408.5" y="106.5" width="132.7" height="66.7" fill="#fff" stroke="#444" stroke-width="1.1"/>
<line x1="414.8" y1="116.2" x2="444.5" y2="116.2" stroke="#000" stroke-width="1.9"/>
<rect x="427.6" y="114.2" width="4" height="4" fill="#000"/>
<text x="448" y="120.6" font-size="12">700 RPM <tspan class="sr" font-size="11" fill="#333">ε=0.11</tspan></text>
<line x1="414.8" y1="132.7" x2="444.5" y2="132.7" stroke="#ff0000" stroke-width="1.9"/>
<circle cx="429.6" cy="132.7" r="2.4" fill="#ff0000"/>
<text x="448" y="137.1" font-size="12">900 RPM <tspan class="sr" font-size="11" fill="#333">ε=0.09</tspan></text>
<line x1="414.8" y1="149" x2="444.5" y2="149" stroke="#008000" stroke-width="1.9"/>
<polygon points="427,151 432.2,151 429.6,146.5" fill="#008000"/>
<text x="448" y="153.4" font-size="12">1100 RPM <tspan class="sr" font-size="11" fill="#333">ε=0.07</tspan></text>
<line x1="414.8" y1="165.5" x2="444.5" y2="165.5" stroke="#0000ff" stroke-width="1.9"/>
<polygon points="427,163.5 432.2,163.5 429.6,168.0" fill="#0000ff"/>
<text x="448" y="169.9" font-size="12">1300 RPM <tspan class="sr" font-size="11" fill="#333">ε=0.06</tspan></text>
</svg></body></html>
